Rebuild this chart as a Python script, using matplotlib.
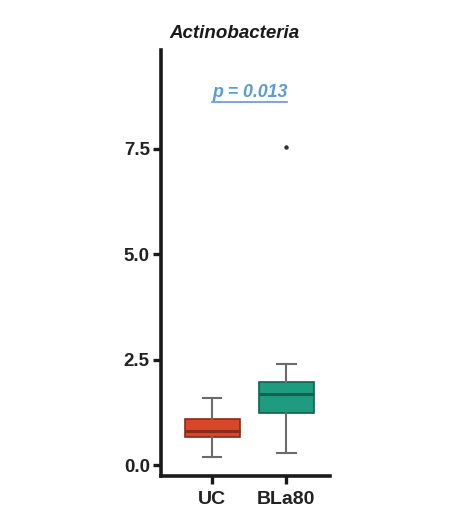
import matplotlib.pyplot as plt
from matplotlib.lines import Line2D

plt.rcParams['font.family'] = ['Liberation Sans', 'DejaVu Sans']

# データ
groups = ["UC", "BLa80"]
q1 = [0.67, 1.24]
med = [0.81, 1.69]
q3 = [1.10, 1.98]
whislo = [0.19, 0.29]
whishi = [1.60, 2.40]
fliers = [[], [7.55]]
colors = ["#D9472B", "#1F9C80"]
edge_colors = ["#8A2A18", "#145F4E"]
yticks = [0.0, 2.5, 5.0, 7.5]

stats = []
for i in range(len(groups)):
    stats.append(dict(label=groups[i], q1=q1[i], med=med[i], q3=q3[i],
                      whislo=whislo[i], whishi=whishi[i], fliers=fliers[i]))

fig = plt.figure(figsize=(4.65, 5.25), dpi=100)
ax = fig.add_axes([0.346, 0.093, 0.364, 0.812])

bp = ax.bxp(stats, positions=[1, 2], widths=0.74, patch_artist=True,
            showfliers=True,
            whiskerprops=dict(color="#6b6b6b", linewidth=1.5),
            capprops=dict(color="#6b6b6b", linewidth=1.5),
            flierprops=dict(marker="o", markersize=2.2, markerfacecolor="#333333",
                            markeredgecolor="#333333"))
for box, c, ec in zip(bp["boxes"], colors, edge_colors):
    box.set_facecolor(c)
    box.set_edgecolor(ec)
    box.set_linewidth(1.2)
for m, ec in zip(bp["medians"], edge_colors):
    m.set_color(ec)
    m.set_linewidth(2.2)
for cap in bp["caps"]:
    x = cap.get_xdata()
    mid = (x[0] + x[1]) / 2
    cap.set_xdata([mid - 0.125, mid + 0.125])

ax.set_xlim(0.31, 2.59)
ax.set_ylim(-0.26, 9.85)
ax.set_yticks(yticks)
ax.set_yticklabels([f"{v:.1f}" for v in yticks], fontsize=13.5, fontweight="bold", color="#222222")
ax.set_xticks([1, 2])
ax.set_xticklabels(groups, fontsize=14, fontweight="bold", color="#222222")

for s in ["top", "right"]:
    ax.spines[s].set_visible(False)
for s in ["left", "bottom"]:
    ax.spines[s].set_linewidth(2.6)
    ax.spines[s].set_color("#1a1a1a")
ax.tick_params(width=2.4, length=6, color="#1a1a1a", pad=2)
ax.tick_params(axis="x", pad=5)

fig.text(0.505, 0.937, "Actinobacteria", ha="center", va="center",
         fontsize=13.5, fontweight="bold", style="italic", color="#1a1a1a")

# p値
ax.text(0.527, 0.90, "p = 0.013", transform=ax.transAxes, ha="center", va="center",
        fontsize=12.8, fontweight="bold", style="italic", color="#5B9BD5")
ax.add_line(Line2D([0.30, 0.745], [0.878, 0.878], transform=ax.transAxes,
                   color="#5B9BD5", linewidth=1.2))

fig.savefig("out.png", dpi=100)
